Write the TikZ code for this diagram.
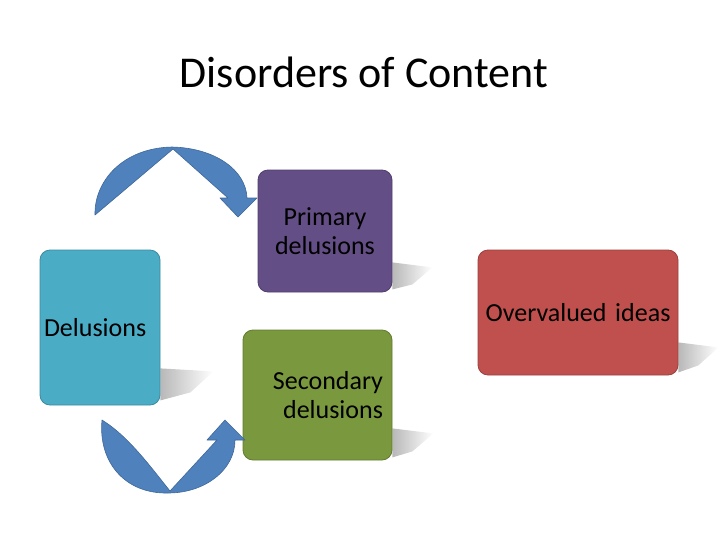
\documentclass[tikz,border=0pt]{standalone}
\usepackage{fontspec}
\setmainfont{Carlito}
\usepackage{tikz}
\usetikzlibrary{backgrounds, fadings}

\definecolor{delucol}{HTML}{4BACC6}
\definecolor{primcol}{HTML}{644E86}
\definecolor{seccol}{HTML}{7A983D}
\definecolor{overcol}{HTML}{C0504D}
\definecolor{arrowcol}{HTML}{4F81BD}

\tikzset{
  card/.style={draw=#1!80!black, fill=#1, line width=0.8pt, rounded corners=10pt,
    inner sep=0pt, font=\fontsize{26}{28.5}\selectfont},
  cardshadow/.style={fill=black!28, draw=none, path fading=east},
  bendarrow/.style={fill=arrowcol, draw=arrowcol!80!black, line width=0.6pt, line join=round},
}

\begin{document}
\begin{tikzpicture}[x=1pt, y=-1pt]
  \useasboundingbox (0,0) rectangle (728,546);

  \node[font=\fontsize{44}{48}\selectfont] (title) at (364,72) {Disorders of Content};

  \node[card=delucol, minimum width=120pt, minimum height=155pt,
    text width=112pt, align=left] (delu) at (100,327.5) {Delusions};
  \node[card=primcol, minimum width=134pt, minimum height=122pt,
    text width=126pt, align=center] (prim) at (325,231) {Primary\\delusions};
  \node[card=seccol, minimum width=149pt, minimum height=130pt,
    text width=131pt, align=right] (second) at (317.5,395) {Secondary\\delusions};
  \node[card=overcol, minimum width=200pt, minimum height=125pt,
    text width=190pt, align=center] (over) at (578,312.5) {Overvalued ideas};

  % shadows behind the cards
  \begin{scope}[on background layer]
    \fill[cardshadow] ([yshift=37pt]delu.south east) -- ([xshift=53pt, yshift=34pt]delu.south east)
      -- ([xshift=30pt, yshift=13pt]delu.south east) -- ([yshift=5pt]delu.south east) -- cycle;
    \fill[cardshadow] ([yshift=30pt]prim.south east) -- ([xshift=40pt, yshift=25pt]prim.south east)
      -- ([xshift=20pt, yshift=8pt]prim.south east) -- ([yshift=3pt]prim.south east) -- cycle;
    \fill[cardshadow] ([yshift=32pt]second.south east) -- ([xshift=41pt, yshift=27pt]second.south east)
      -- ([xshift=20pt, yshift=9pt]second.south east) -- ([yshift=3pt]second.south east) -- cycle;
    \fill[cardshadow] ([yshift=33pt]over.south east) -- ([xshift=40pt, yshift=28pt]over.south east)
      -- ([xshift=20pt, yshift=10pt]over.south east) -- ([yshift=3pt]over.south east) -- cycle;
  \end{scope}

  % curved arrows
  \coordinate (topstart) at (95,215);
  \coordinate (toppeak) at (172,147);
  \coordinate (toptip) at (238,217);
  \draw[bendarrow] (topstart) .. controls (94,182) and (122,148) .. (toppeak)
    .. controls (215,148) and (246,170) .. (247,198) -- (257,198) -- (toptip)
    -- (220,198) -- (228,198) -- (173,149) -- (topstart) -- cycle;

  \coordinate (botstart) at (102,420);
  \coordinate (botpeak) at (168,493);
  \coordinate (bottip) at (225,420);
  \draw[bendarrow] (botstart) .. controls (98,462) and (125,494) .. (botpeak)
    .. controls (205,493) and (235,470) .. (235,440) -- (245,440) -- (bottip)
    -- (207,440) -- (217,440) -- (170,491)
    .. controls (150,466) and (128,436) .. (botstart) -- cycle;
\end{tikzpicture}
\end{document}
